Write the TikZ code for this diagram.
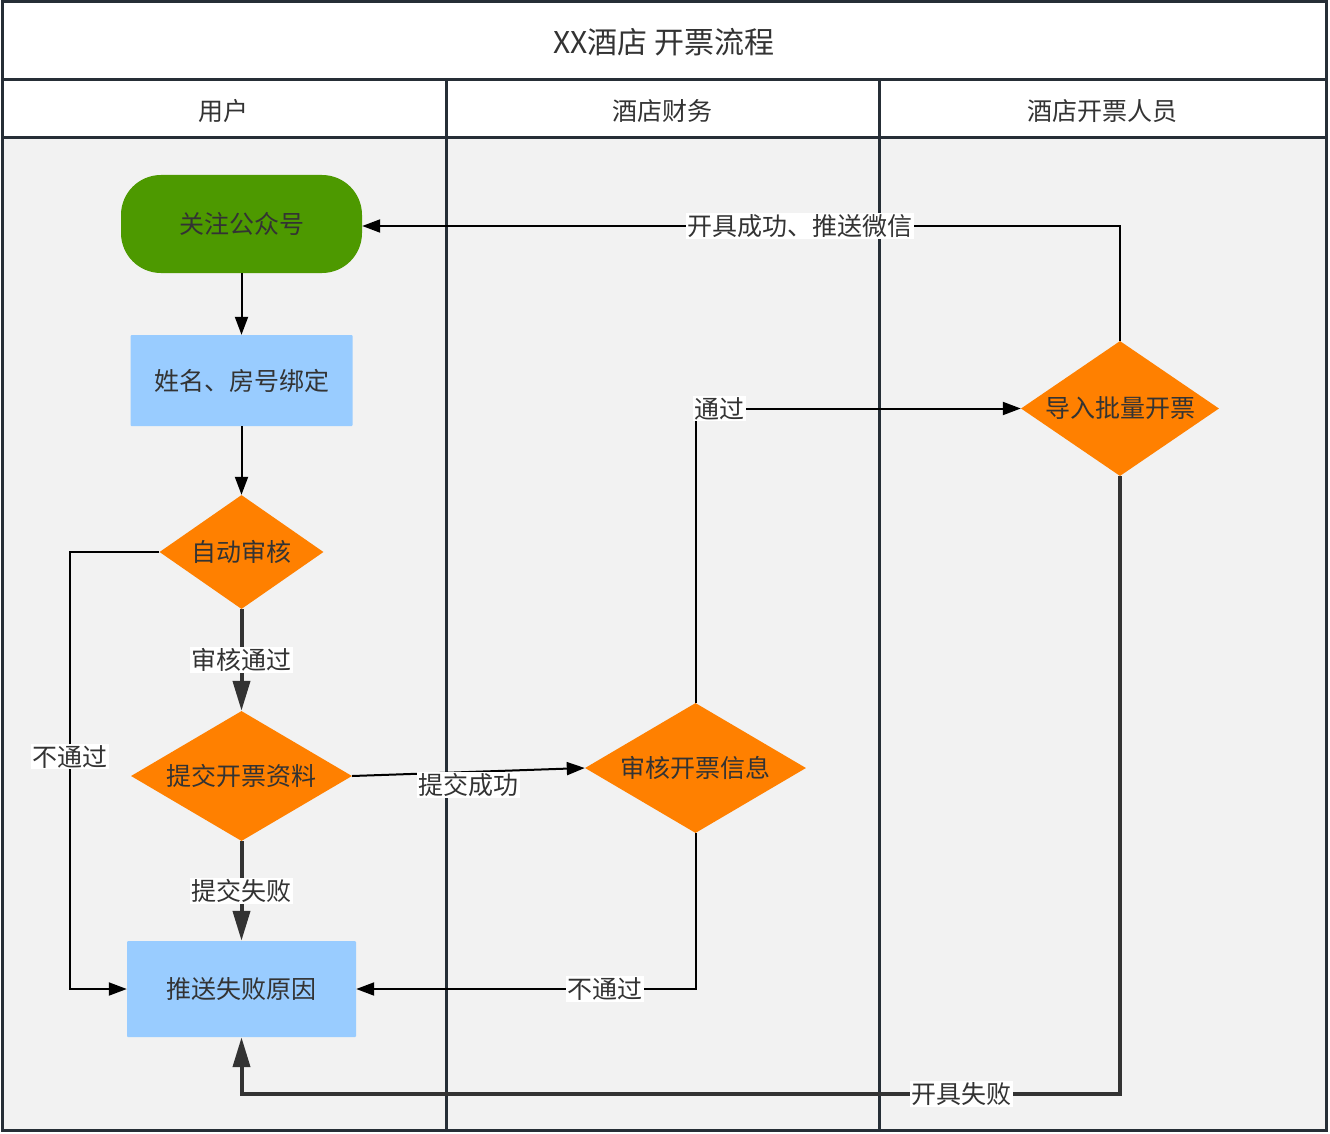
\documentclass[tikz,border=0pt]{standalone}
\usepackage{fontspec}
\setmainfont{Noto Sans CJK SC}
\usetikzlibrary{shapes.geometric,arrows.meta}
\definecolor{framec}{HTML}{262E36}
\definecolor{lanebg}{HTML}{F2F2F2}
\definecolor{txt}{HTML}{333333}
\definecolor{greenf}{HTML}{4D9900}
\definecolor{orangef}{HTML}{FF8000}
\definecolor{bluef}{HTML}{99CCFF}
\pgfdeclarelayer{bg}
\pgfsetlayers{bg,main}
\tikzset{
  base/.style={text=txt, font=\fontsize{25}{30}\selectfont, inner sep=0pt},
  term/.style={base, fill=greenf, rounded corners=40pt, minimum width=241pt, minimum height=98pt},
  proc/.style={base, fill=bluef, rounded corners=1pt},
  deci/.style={base, shape=diamond, fill=orangef},
  lbl/.style={fill=white, text=txt, font=\fontsize{25}{30}\selectfont, inner sep=1.5pt},
  hdr/.style={text=txt, font=\fontsize{25}{30}\selectfont},
  thinarr/.style={draw=black, line width=2pt, -{Triangle[length=18pt,width=13pt]}},
  thickarr/.style={draw=txt, line width=4pt, -{Triangle[length=30pt,width=17pt]}},
  lanes/.style={draw=framec, line width=3pt},
}
\begin{document}
\begin{tikzpicture}[x=1pt,y=-1pt]
\useasboundingbox (0,0) rectangle (1330,1134);
\begin{pgfonlayer}{bg}
\fill[white] (0,0) rectangle (1330,1134);
\fill[lanebg] (2,138) rectangle (1326,1130);
\draw[lanes] (2,80) -- (1326,80);
\draw[lanes] (2,138) -- (1326,138);
\draw[lanes] (446,80) -- (446,1130);
\draw[lanes] (879,80) -- (879,1130);
\draw[lanes] (2,2) rectangle (1326,1130);
\end{pgfonlayer}

\node[hdr, font=\fontsize{30}{36}\selectfont] (title) at (664,42) {XX酒店 开票流程};
\node[hdr] (h1) at (223,111) {用户};
\node[hdr] (h2) at (662,111) {酒店财务};
\node[hdr] (h3) at (1102,111) {酒店开票人员};

\node[term] (guanzhu) at (241.5,224) {关注公众号};
\node[proc, minimum width=222pt, minimum height=91pt] (bangding) at (241.5,380.5) {姓名、房号绑定};
\node[deci, aspect=1.44, minimum width=164pt, minimum height=114pt] (zidong) at (241.5,552) {自动审核};
\node[deci, aspect=1.7, minimum width=221pt, minimum height=130pt] (tijiao) at (241.5,776) {提交开票资料};
\node[proc, minimum width=229pt, minimum height=96pt] (tuisong) at (241.5,989) {推送失败原因};
\node[deci, aspect=1.7, minimum width=221pt, minimum height=130pt] (shenhe) at (695.5,768) {审核开票信息};
\node[deci, aspect=1.47, minimum width=198pt, minimum height=135pt] (daoru) at (1120,408.5) {导入批量开票};

\draw[thinarr] (guanzhu) -- (bangding);
\draw[thinarr] (bangding) -- (zidong);
\draw[thickarr] (zidong) -- node[lbl, pos=0.5] {审核通过} (tijiao);
\draw[thickarr] (tijiao) -- node[lbl, pos=0.5] {提交失败} (tuisong);
\draw[thinarr] (zidong.west) -- ++(-89,0) |- node[lbl, pos=0.234] {不通过} (tuisong.west);
\draw[thinarr] (tijiao.east) -- node[lbl, pos=0.5, yshift=-13pt] {提交成功} (shenhe.west);
\draw[thinarr] (shenhe.north) |- node[lbl, pos=0.537] {通过} (daoru.west);
\draw[thinarr] (shenhe.south) |- node[lbl, pos=0.634] {不通过} (tuisong.east);
\draw[thinarr] (daoru.north) |- node[lbl, pos=0.711] {开具成功、推送微信} ([yshift=-2pt]guanzhu.east);
\draw[thickarr] (daoru.south) -- ++(0,618) -| node[lbl, pos=0.09] {开具失败} (tuisong.south);
\end{tikzpicture}
\end{document}
